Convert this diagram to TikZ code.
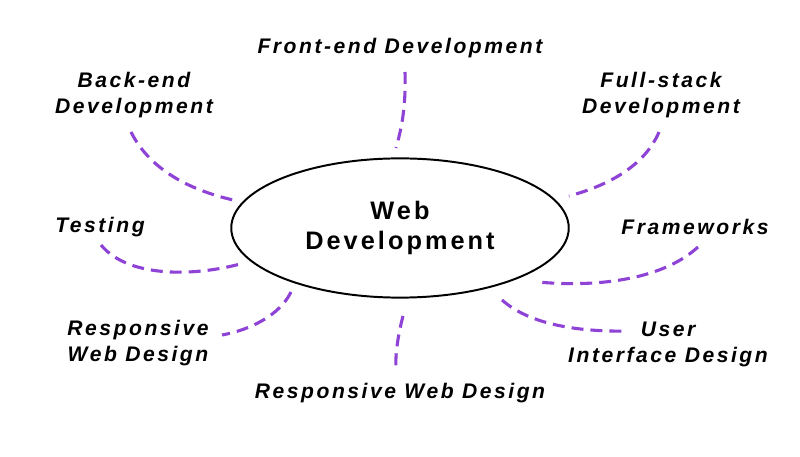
\documentclass[tikz,border=0pt]{standalone}
\usepackage{fontspec}
\usepackage{tikz}
\usetikzlibrary{shapes.geometric}
\newfontfamily\lblfont[LetterSpace=12]{Liberation Sans}
\definecolor{vio}{RGB}{142,66,214}
\tikzstyle{lbl}=[font=\lblfont\bfseries\itshape\fontsize{15}{18.4}\selectfont,align=center,inner sep=0]
\tikzstyle{hub}=[draw,ellipse,line width=1.4pt,minimum width=240pt,minimum height=99pt,inner sep=0,font=\lblfont\bfseries\fontsize{18}{21}\selectfont,align=center]
\tikzstyle{dsh}=[vio,line width=2.2pt,dash pattern=on 8.5pt off 5pt]

\begin{document}
\begin{tikzpicture}[x=0.025cm,y=-0.025cm]

                        \useasboundingbox (0,0) rectangle (800,457);

                        \node[hub] (web) at (400,228) {Web\\Development};

                        \node[lbl] (fe) at (400,48) {Front-end Development};
                        \node[lbl] (be) at (134,95) {Back-end\\Development};
                        \node[lbl] (fs) at (661,95) {Full-stack\\Development};
                        \node[lbl] (te) at (100,227) {Testing};
                        \node[lbl] (fw) at (695,227) {Frameworks};
                        \node[lbl] (rl) at (138,343) {Responsive\\Web Design};
                        \node[lbl] (ui) at (668,344) {User\\Interface Design};
                        \node[lbl] (rb) at (400,393) {Responsive Web Design};

                        \coordinate (fe1) at (405,72);
                        \coordinate (fe2) at (396,148);
                        \coordinate (be1) at (131,132);
                        \coordinate (be2) at (233,200);
                        \coordinate (fs1) at (659,132);
                        \coordinate (fs2) at (569,196);
                        \coordinate (te1) at (101,245);
                        \coordinate (te2) at (240,264);
                        \coordinate (fw1) at (698,247);
                        \coordinate (fw2) at (538,282);
                        \coordinate (rl1) at (291,292);
                        \coordinate (rl2) at (222,335);
                        \coordinate (rb1) at (403,316);
                        \coordinate (rb2) at (396,370);
                        \coordinate (ui1) at (502,300);
                        \coordinate (ui2) at (628,331);

                        \draw[dsh]
                        (fe1) .. controls (406,110) and (401,130) .. (fe2)
                        (be1) .. controls (150,170) and (190,190) .. (be2)
                        (fs1) .. controls (645,165) and (610,185) .. (fs2)
                        (te1) .. controls (130,280) and (200,275) .. (te2)
                        (fw1) .. controls (660,282) and (590,287) .. (fw2)
                        (rl1) .. controls (280,315) and (250,330) .. (rl2)
                        (rb1) .. controls (398,335) and (395,355) .. (rb2)
                        (ui1) .. controls (530,325) and (580,332) .. (ui2)
                        ;

    \end{tikzpicture}
\end{document}
